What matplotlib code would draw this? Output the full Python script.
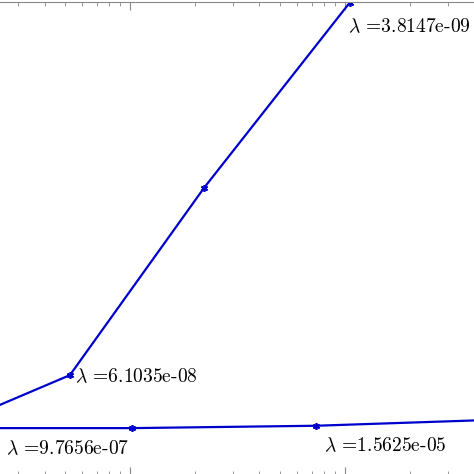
import matplotlib
matplotlib.use("Agg")
import matplotlib.pyplot as plt

plt.rcParams["mathtext.fontset"] = "cm"
plt.rcParams["font.family"] = ["cmr10", "DejaVu Serif"]

# Curva superior
x_sup = [0.20, 0.525, 2.21, 10.5]
y_sup = [0.13, 0.211, 0.607, 0.998]
# Curva inferior
x_inf = [0.20, 1.02, 7.33, 45.0]
y_inf = [0.099, 0.099, 0.104, 0.116]

etiquetas = [
    (x_sup[3], y_sup[3], "3.8147e-09", (-1, -11), "left", "top"),
    (x_sup[1], y_sup[1], "6.1035e-08", (4, -1), "left", "center"),
    (x_inf[1], y_inf[1], "9.7656e-07", (-2, -8), "right", "top"),
    (x_inf[2], y_inf[2], "1.5625e-05", (6, -8), "left", "top"),
]

fig = plt.figure(figsize=(4.74, 4.74), dpi=100)
ax = fig.add_axes([0, -0.002, 1, 0.998])

ax.plot(x_sup, y_sup, color="#0000cc", lw=1.6, marker=(6, 2, 0), ms=5, mew=1.2)
ax.plot(x_inf, y_inf, color="#0000cc", lw=1.6, marker=(6, 2, 0), ms=5, mew=1.2)

for x, y, txt, off, ha, va in etiquetas:
    ax.annotate(r"$\lambda$ =" + txt, (x, y), xytext=off, textcoords="offset points",
                ha=ha, va=va, fontsize=14)

ax.set_xscale("log")
ax.set_xlim(10 ** -0.605, 10 ** 1.6)
ax.set_ylim(0, 1.0)
ax.tick_params(which="both", direction="in", top=True, left=False, right=False,
               labelbottom=False, labelleft=False, color="#888888")
ax.tick_params(which="major", length=6)
ax.tick_params(which="minor", length=3)
ax.spines["left"].set_visible(False)
ax.spines["right"].set_visible(False)
for s in ax.spines.values():
    s.set_color("#888888")

fig.savefig("out.png", dpi=100)
